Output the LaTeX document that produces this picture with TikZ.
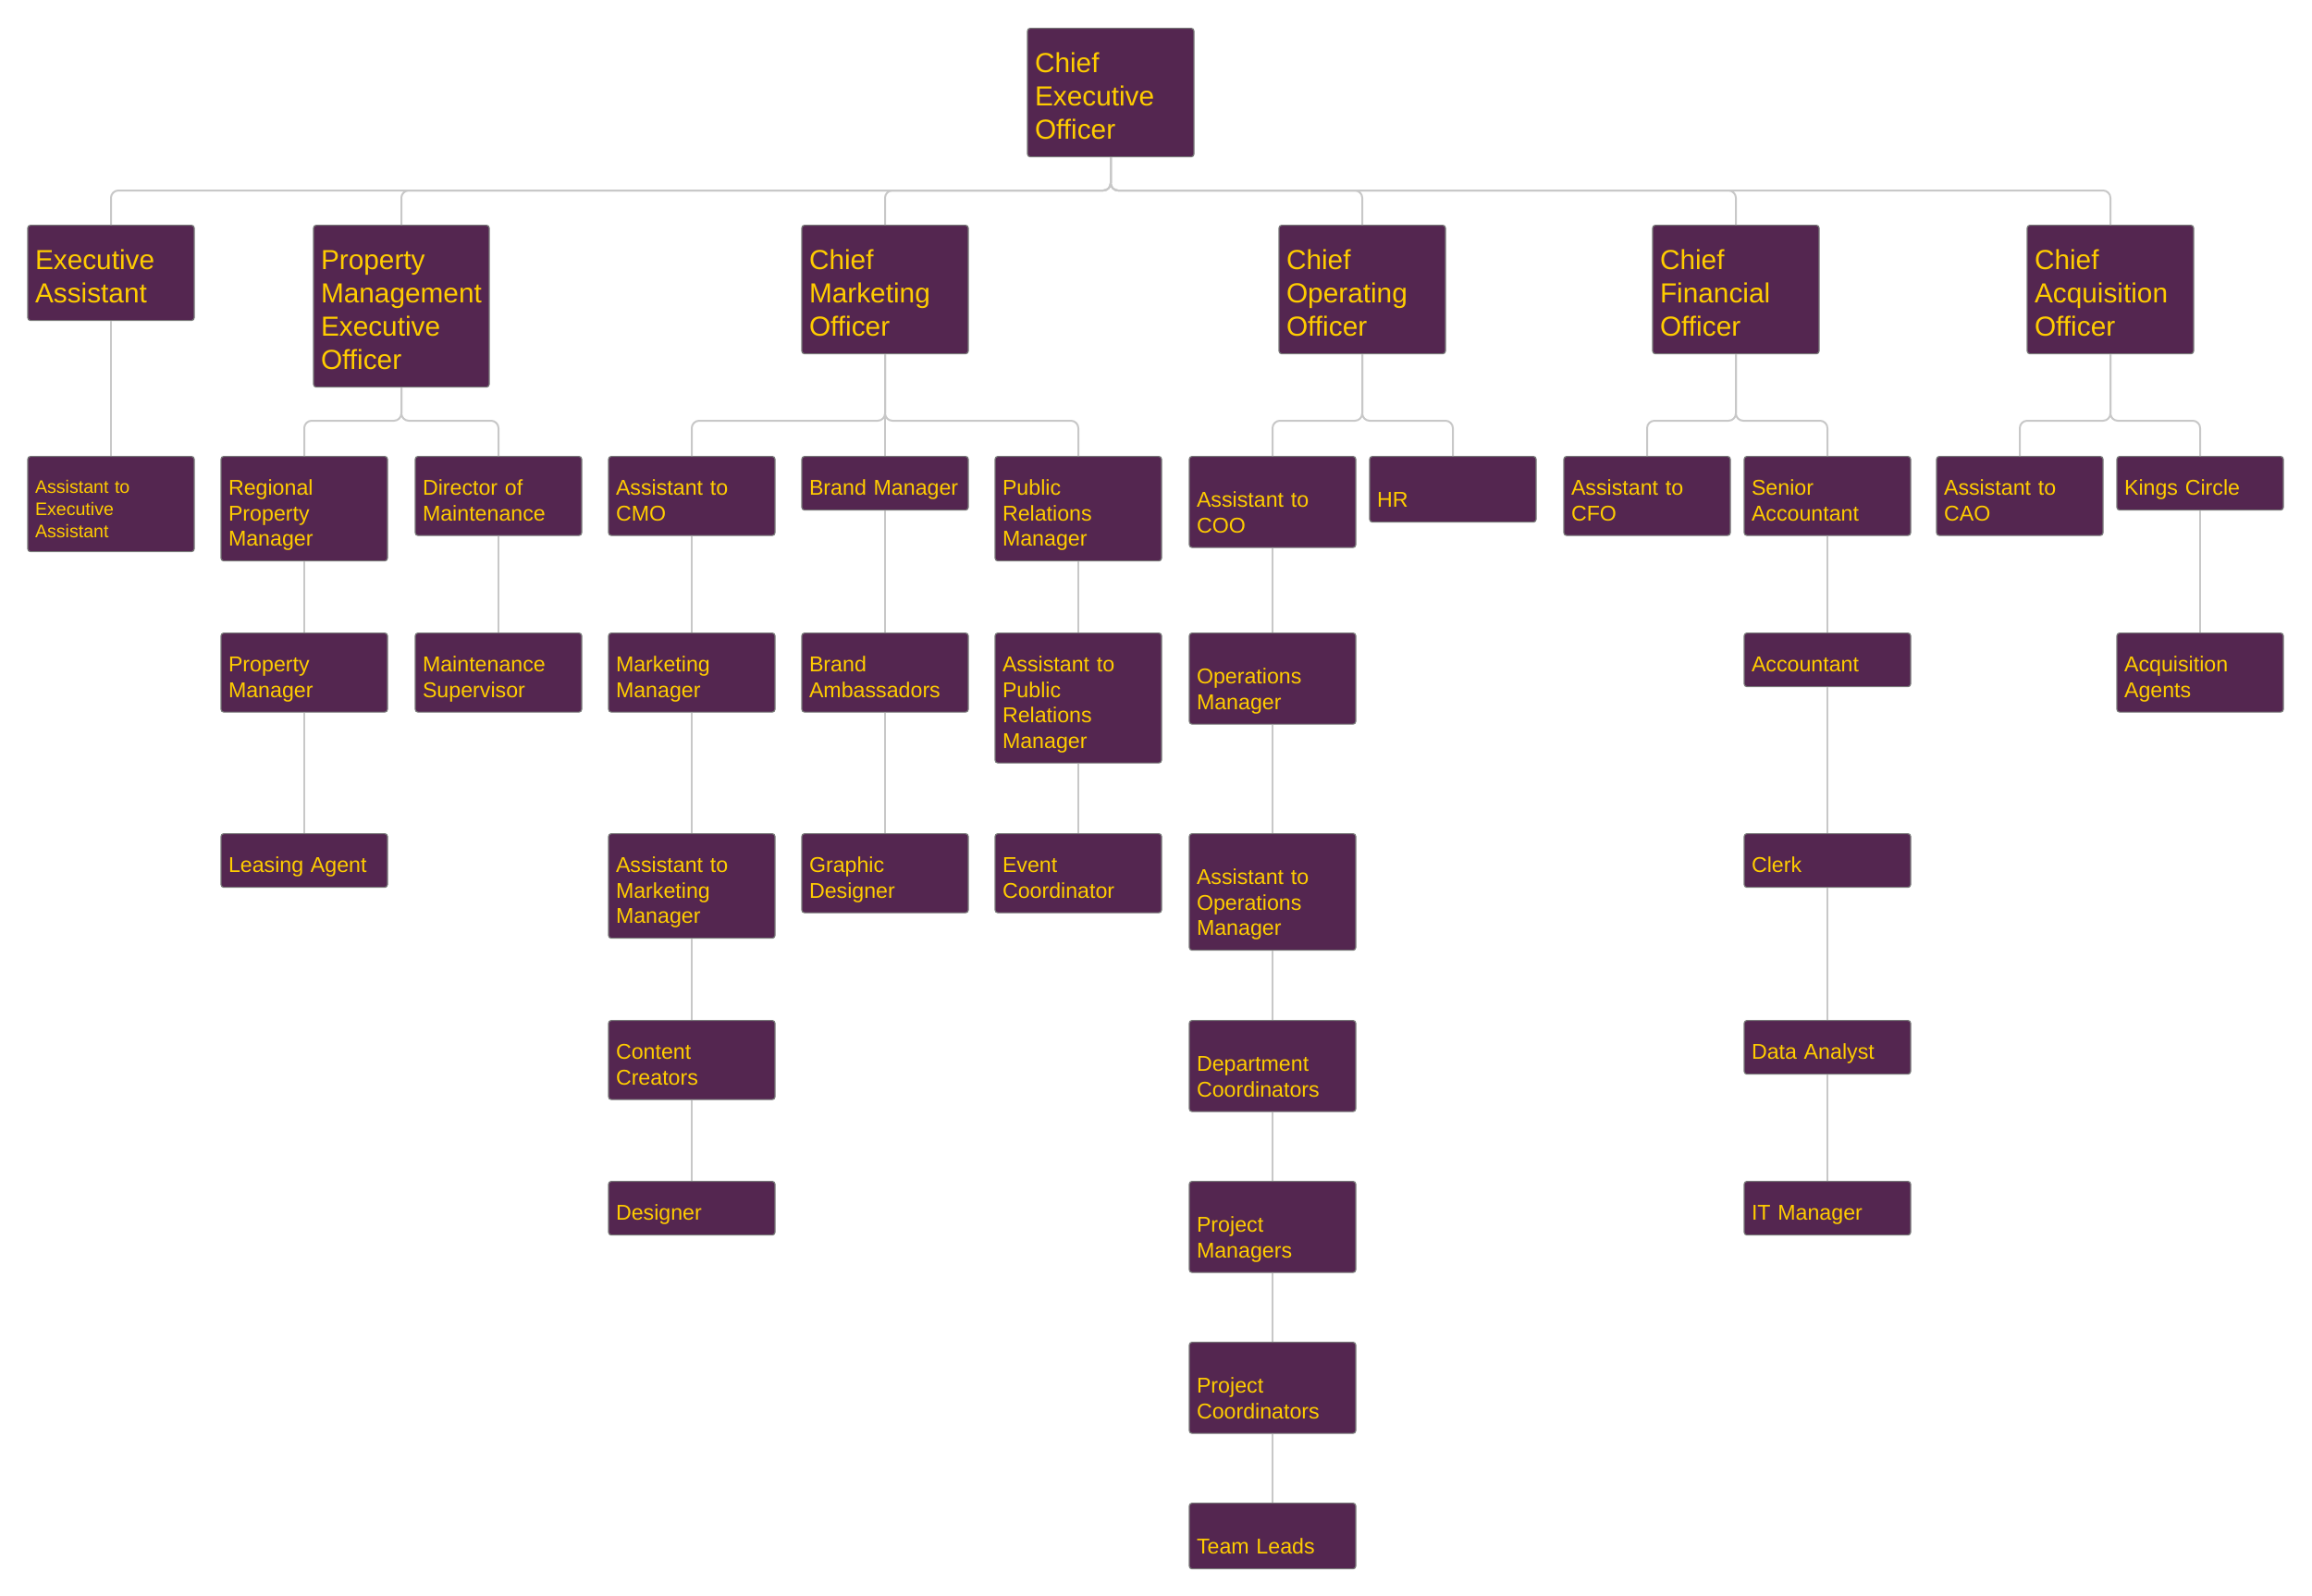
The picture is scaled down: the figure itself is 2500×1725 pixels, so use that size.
\documentclass[tikz,border=0pt]{standalone}
\usepackage{fontspec}
\setmainfont{Liberation Sans}
\definecolor{plum}{RGB}{84,38,80}
\definecolor{gold}{RGB}{255,204,0}
\definecolor{cardedge}{RGB}{120,120,120}
\definecolor{wiregray}{RGB}{200,200,200}
\tikzset{
  card/.style={rectangle, rounded corners=3pt, draw=cardedge, line width=1.2pt,
               fill=plum, text=gold, align=left, anchor=north,
               text width=164pt, inner xsep=8pt, inner ysep=0pt},
  chief/.style={card, font=\fontsize{29.8}{36}\selectfont,
                execute at begin node={\rule{0pt}{48pt}},
                execute at end node={\rule[-19pt]{0pt}{0pt}}},
  staff/.style={card, font=\fontsize{23.2}{27.5}\selectfont,
                execute at begin node={\rule{0pt}{42pt}},
                execute at end node={\rule[-16pt]{0pt}{0pt}}},
  opsstaff/.style={card, font=\fontsize{23.2}{27.5}\selectfont,
                execute at begin node={\rule{0pt}{55pt}},
                execute at end node={\rule[-16pt]{0pt}{0pt}}},
  aide/.style={card, font=\fontsize{19.6}{24}\selectfont,
                execute at begin node={\rule{0pt}{40pt}},
                execute at end node={\rule[-15pt]{0pt}{0pt}}},
  wire/.style={draw=wiregray, line width=2pt, rounded corners=8pt},
}

\begin{document}
\begin{tikzpicture}[x=1pt, y=-1pt]
        \fill[white] (0,0) rectangle (2500,1725);
        \useasboundingbox (0,0) rectangle (2500,1725);

        % Top of the chart
        \node[chief] (ceo) at (1201,30) {Chief\\Executive\\Officer};

        % Chiefs and executives
        \node[chief] (ea) at (120,243) {Executive\\Assistant};
        \node[chief, text width=174pt] (pmeo) at (434,243) {Property\\Management\\Executive\\Officer};
        \node[chief] (cmo) at (957,243) {Chief\\Marketing\\Officer};
        \node[chief] (coo) at (1473,243) {Chief\\Operating\\Officer};
        \node[chief] (cfo) at (1877,243) {Chief\\Financial\\Officer};
        \node[chief] (cao) at (2282,243) {Chief\\Acquisition\\Officer};

        % Second row
        \node[aide] (aea) at (120,493) {Assistant to\\Executive\\Assistant};
        \node[staff] (rpm) at (329,493) {Regional\\Property\\Manager};
        \node[staff] (dom) at (539,493) {Director of\\Maintenance};
        \node[staff] (acmo) at (748,493) {Assistant to\\CMO};
        \node[staff] (bm) at (957,493) {Brand Manager};
        \node[staff] (prm) at (1166,493) {Public\\Relations\\Manager};
        \node[opsstaff] (acoo) at (1376,493) {Assistant to\\COO};
        \node[opsstaff] (hr) at (1571,493) {HR};
        \node[staff] (acfo) at (1781,493) {Assistant to\\CFO};
        \node[staff] (sa) at (1976,493) {Senior\\Accountant};
        \node[staff] (acao) at (2184,493) {Assistant to\\CAO};
        \node[staff] (kc) at (2379,493) {Kings Circle};

        % Third row
        \node[staff] (pm) at (329,684) {Property\\Manager};
        \node[staff] (ms) at (539,684) {Maintenance\\Supervisor};
        \node[staff] (mm) at (748,684) {Marketing\\Manager};
        \node[staff] (ba) at (957,684) {Brand\\Ambassadors};
        \node[staff] (aprm) at (1166,684) {Assistant to\\Public\\Relations\\Manager};
        \node[opsstaff] (om) at (1376,684) {Operations\\Manager};
        \node[staff] (acc) at (1976,684) {Accountant};
        \node[staff] (aa) at (2379,684) {Acquisition\\Agents};

        % Fourth row
        \node[staff] (la) at (329,901) {Leasing Agent};
        \node[staff] (amm) at (748,901) {Assistant to\\Marketing\\Manager};
        \node[staff] (gd) at (957,901) {Graphic\\Designer};
        \node[staff] (ec) at (1166,901) {Event\\Coordinator};
        \node[opsstaff] (aom) at (1376,901) {Assistant to\\Operations\\Manager};
        \node[staff] (clerk) at (1976,901) {Clerk};

        % Lower rows
        \node[staff] (cc) at (748,1103) {Content\\Creators};
        \node[opsstaff] (dc) at (1376,1103) {Department\\Coordinators};
        \node[staff] (da) at (1976,1103) {Data Analyst};
        \node[staff] (des) at (748,1277) {Designer};
        \node[opsstaff] (pjm) at (1376,1277) {Project\\Managers};
        \node[staff] (itm) at (1976,1277) {IT Manager};
        \node[opsstaff] (pc) at (1376,1451) {Project\\Coordinators};
        \node[opsstaff] (tl) at (1376,1625) {Team Leads};

        % Bus points
        \coordinate (ceobus) at (1201,206);
        \coordinate (pmeobus) at (434,455);
        \coordinate (cmobus) at (957,455);
        \coordinate (coobus) at (1473,455);
        \coordinate (cfobus) at (1877,455);
        \coordinate (caobus) at (2282,455);

        % Branching connectors
        \foreach \c in {ea,pmeo,cmo,coo,cfo,cao}
          \draw[wire] (ceo.south) -- (ceobus) -| (\c.north);
        \foreach \p/\c in {pmeo/rpm, pmeo/dom, cmo/acmo, cmo/prm, coo/acoo, coo/hr,
                           cfo/acfo, cfo/sa, cao/acao, cao/kc}
          \draw[wire] (\p.south) -- (\p bus) -| (\c.north);

        % Straight connectors
        \foreach \a/\b in {ea/aea, rpm/pm, pm/la, dom/ms, cmo/bm,
                           acmo/mm, mm/amm, amm/cc, cc/des,
                           bm/ba, ba/gd, prm/aprm, aprm/ec,
                           acoo/om, om/aom, aom/dc, dc/pjm, pjm/pc, pc/tl,
                           sa/acc, acc/clerk, clerk/da, da/itm, kc/aa}
          \draw[wire] (\a.south) -- (\b.north);
\end{tikzpicture}
\end{document}
